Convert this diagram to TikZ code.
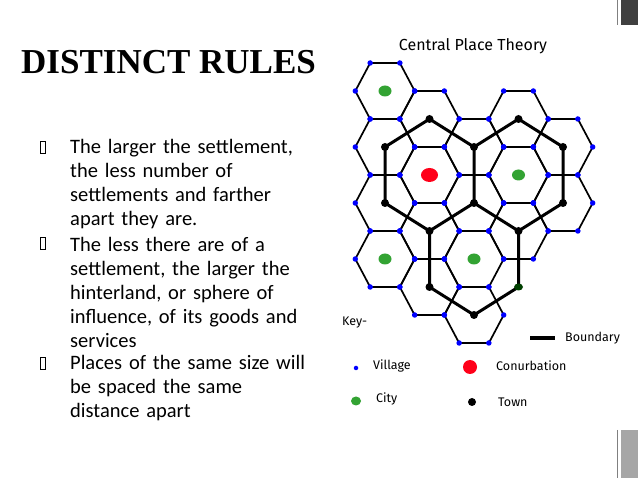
\documentclass[tikz,border=0pt]{standalone}
\usepackage{fontspec}
\usetikzlibrary{shapes.geometric}
\setmainfont{Carlito}
\newfontfamily\titlefont{Liberation Serif}
\newfontfamily\hand{Fira Sans}
\begin{document}
\begin{tikzpicture}[x=1pt,y=-1pt,
  hexline/.style={line width=1.7pt,black,line join=round},
  townline/.style={line width=3pt,black},
  village/.style={circle,fill=blue,inner sep=0pt,minimum size=5.5pt},
  town/.style={circle,fill=black,inner sep=0pt,minimum size=8pt},
  city/.style={ellipse,fill=green!55!black!80,inner sep=0pt,minimum width=13pt,minimum height=11pt},
  conurb/.style={ellipse,fill=red!90!magenta,inner sep=0pt,minimum width=17pt,minimum height=14pt},
  bul/.style={anchor=west,font=\fontsize{20.5}{24}\selectfont,align=left,text width=260pt,inner sep=0pt},
  keytxt/.style={anchor=west,font=\hand\fontsize{12.5}{14}\selectfont,inner sep=0pt}]
\useasboundingbox (0,0) rectangle (638,478);
\fill[white] (0,0) rectangle (638,478);
% corner decorations
\draw[gray,line width=0.8pt] (617,0) -- (617,25);
\fill[black!75] (621,0) rectangle (638,25);
\draw[gray,line width=0.8pt] (617,430) -- (617,478);
\fill[black!35] (621,430) rectangle (638,478);
% title
\node[anchor=west,inner sep=0pt,font=\titlefont\bfseries\fontsize{35}{40}\selectfont] (title) at (21,62) {DISTINCT RULES};
% bullets
\foreach \y in {148,244,364} \draw[line width=0.4pt] (40,\y-7) rectangle (45,\y+5);
\node[bul] (b1) at (70,184) {The larger the settlement,\\the less number of\\settlements and farther\\apart they are.};
\node[bul] (b2) at (70,292) {The less there are of a\\settlement, the larger the\\hinterland, or sphere of\\influence, of its goods and\\services};
\node[bul] (b3) at (70,388) {Places of the same size will\\be spaced the same\\distance apart};
% diagram
\node[font=\hand\fontsize{16}{18}\selectfont,inner sep=0pt] (cpt) at (473,46) {Central Place Theory};
\def\S{29.7}\def\H{28}
\foreach \c/\r in {0/0,1/1,3/1,0/2,2/2,4/2,1/3,3/3,0/4,2/4,4/4,1/5,3/5,0/6,2/6,1/7,2/8}{
  \pgfmathsetmacro\cx{385+44.5*\c}\pgfmathsetmacro\cy{91+28*\r}
  \draw[hexline] (\cx+\S,\cy) -- (\cx+\S/2,\cy-\H) -- (\cx-\S/2,\cy-\H) -- (\cx-\S,\cy) -- (\cx-\S/2,\cy+\H) -- (\cx+\S/2,\cy+\H) -- cycle;
}
% town network
\foreach \n/\c/\r in {t1/1/1,t2/3/1,t3/0/2,t4/2/2,t5/4/2,t6/0/4,t7/2/4,t8/4/4,t9/1/5,t10/3/5,t11/1/7,t12/3/7,t13/2/8}{
  \pgfmathsetmacro\cx{385+44.5*\c}\pgfmathsetmacro\cy{91+28*\r}
  \coordinate (\n) at (\cx,\cy);
}
\draw[townline] (t3)--(t1)--(t4)--(t2)--(t5)--(t8)--(t10)--(t7)--(t4);
\draw[townline] (t3)--(t6)--(t9)--(t7);
\draw[townline] (t9)--(t11)--(t13)--(t12)--(t10);
% villages
\foreach \c/\r in {0/0,1/1,3/1,0/2,2/2,4/2,1/3,3/3,0/4,2/4,4/4,1/5,3/5,0/6,2/6,1/7,2/8}{
  \pgfmathsetmacro\cx{385+44.5*\c}\pgfmathsetmacro\cy{91+28*\r}
  \foreach \dx/\dy in {1/0,0.5/-1,-0.5/-1,-1/0,-0.5/1,0.5/1}
    \node[village] at (\cx+\dx*\S,\cy+\dy*\H) {};
}
\foreach \n in {t1,t2,t3,t4,t5,t6,t7,t8,t9,t10,t11,t13} \node[town] at (\n) {};
\node[ellipse,fill=green!25!black,inner sep=0pt,minimum width=9pt,minimum height=7pt] (t12n) at (t12) {};
\node[city] (g1) at (385,91) {};
\node[city] (g2) at (518.5,175) {};
\node[city] (g3) at (385,259) {};
\node[city] (g4) at (474,259) {};
\node[conurb] (red) at (429.5,175) {};
% key
\node[keytxt] (key) at (342,323) {Key-};
\coordinate (bl) at (530,338); \coordinate (br) at (555,338);
\draw[line width=3.5pt] (bl) -- (br);
\node[keytxt] (bt) at (565,338) {Boundary};
\node[village,minimum size=4.5pt] (kv) at (356,368) {};
\node[keytxt] (kvt) at (373,366) {Village};
\node[conurb,minimum width=14pt,minimum height=14pt] (kc) at (470,367) {};
\node[keytxt] (kct) at (496,366) {Conurbation};
\node[city,minimum width=10pt,minimum height=9pt] (kg) at (356,401) {};
\node[keytxt] (kgt) at (376,399) {City};
\node[town] (kt) at (472,402) {};
\node[keytxt] (ktt) at (498,402) {Town};
\end{tikzpicture}
\end{document}
